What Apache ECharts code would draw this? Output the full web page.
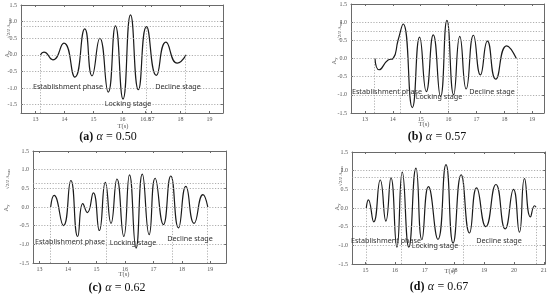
<!DOCTYPE html>
<html>
<head>
<meta charset="utf-8">
<script src="https://cdn.jsdelivr.net/npm/echarts@6/dist/echarts.min.js"></script>
<style>html,body{margin:0;padding:0;background:#fff;}#c{width:550px;height:297px;}</style>
</head>
<body>
<div id="c"></div>
<script>
// ---- data ----
const tA = [13.17,13.29,13.60,13.98,14.36,14.70,14.95,15.22,15.51,15.76,16.02,16.28,16.55,16.83,17.17,17.50,17.89,18.20];
const yA = [0,0.08,-0.15,0.35,-0.67,0.78,-0.63,0.50,-1.12,0.87,-1.33,1.20,-1.05,0.85,-0.62,0.38,-0.25,0];
const tB = [13.36,13.51,13.83,14.01,14.19,14.37,14.70,14.96,15.20,15.45,15.71,15.94,16.18,16.40,16.63,16.89,17.14,17.39,17.69,18.08,18.43];
const yB = [0,-0.31,-0.04,0,0.51,0.95,-1.35,0.59,-0.91,0.65,-1.05,1.05,-1.00,0.61,-0.84,0.64,-0.45,0.48,-0.57,0.35,0];
const tC = [13.39,13.51,13.84,14.10,14.34,14.52,14.68,14.89,15.10,15.31,15.51,15.72,15.96,16.16,16.39,16.61,16.85,17.06,17.35,17.61,17.88,18.14,18.43,18.74,18.91];
const yC = [0,0.31,-0.50,0.71,-0.79,0.09,-0.15,0.38,-0.63,0.66,-0.44,0.75,-0.79,0.86,-1.10,0.88,-0.74,0.77,-0.47,0.83,-0.56,0.55,-0.44,0.33,0];
const tD = [15.03,15.10,15.28,15.50,15.69,15.86,16.06,16.24,16.46,16.70,16.90,17.12,17.44,17.71,17.95,18.22,18.50,18.74,19.05,19.39,19.70,19.98,20.18,20.35,20.55,20.69,20.74];
const yD = [0,0.22,-0.37,0.75,-0.35,0.81,-1.05,0.96,-1.05,1.07,-0.85,0.57,-0.84,1.16,-0.94,0.89,-0.67,0.54,-0.50,0.63,-0.56,0.50,-0.65,0.79,-0.24,0.06,0.02];

// stage boundary lines (x, and curve value where the dotted line starts)
const stageXA = [13.17,16.82,18.17], stageTopA = [0,0.85,0];
const stageXB = [13.35,14.28,16.00,18.45], stageTopB = [0,0.72,0.95,0];
const stageXC = [13.39,15.34,17.67,18.90], stageTopC = [0,0.65,0.80,0];
const stageXD = [15.04,16.22,18.29,20.75], stageTopD = [0,0.95,0.85,0];

// sqrt(2)/2 * A_max reference levels
const refLevels = [0.85,0.74,0.63,0.82];

// tick labels
const xTicksA = [13,14,15,16,16.8,17,18,19];
const xTicksB = [13,14,15,16,17,18,19];
const xTicksC = [13,14,15,16,17,18,19];
const xTicksD = [15,16,17,18,19,20,21];
const yTicks = [-1.5,-1.0,-0.5,0,0.5,1.0,1.5];

const captions = ['a','b','c','d'];
const alphas = ['0.50','0.57','0.62','0.67'];
const stageNames = ['Establishment phase','Locking stage','Decline stage'];

// ---- layout ----
const panels = [
  {t:tA,y:yA,sx:stageXA,st:stageTopA,xt:xTicksA,grid:{left:21,top:5,width:202,height:108},xmin:12.5,xmax:19.47,ymin:-1.75,ymax:1.5},
  {t:tB,y:yB,sx:stageXB,st:stageTopB,xt:xTicksB,grid:{left:351,top:4,width:193,height:109},xmin:12.5,xmax:19.42,ymin:-1.5,ymax:1.5},
  {t:tC,y:yC,sx:stageXC,st:stageTopC,xt:xTicksC,grid:{left:33,top:151,width:193,height:112},xmin:12.77,xmax:19.55,ymin:-1.5,ymax:1.5},
  {t:tD,y:yD,sx:stageXD,st:stageTopD,xt:xTicksD,grid:{left:352,top:152,width:193,height:112},xmin:14.55,xmax:21.04,ymin:-1.5,ymax:1.5}
];

const boxColor = '#6a6a6a';
const tickFont = {fontFamily:'Liberation Serif',fontSize:6,color:'#555'};

const grid=[], xAxis=[], yAxis=[], series=[];
panels.forEach((p,i)=>{
  grid.push(Object.assign({containLabel:false},p.grid));
  const xl = p.xt.map(v=>v);
  xAxis.push({type:'value',gridIndex:i,min:p.xmin,max:p.xmax,position:'bottom',
    axisLine:{show:true,onZero:false,lineStyle:{color:boxColor,width:1}},
    axisTick:{show:true,inside:true,length:2,customValues:xl,lineStyle:{color:boxColor}},
    axisLabel:Object.assign({show:true,margin:3,customValues:xl,formatter:v=>String(Math.round(v*10)/10)},tickFont),
    splitLine:{show:false}});
  xAxis.push({type:'value',gridIndex:i,min:p.xmin,max:p.xmax,position:'top',
    axisLine:{show:true,onZero:false,lineStyle:{color:boxColor,width:1}},
    axisTick:{show:true,inside:true,length:2,customValues:xl,lineStyle:{color:boxColor}},
    axisLabel:{show:false},splitLine:{show:false}});
  yAxis.push({type:'value',gridIndex:i,min:p.ymin,max:p.ymax,position:'left',
    axisLine:{show:true,onZero:false,lineStyle:{color:boxColor,width:1}},
    axisTick:{show:true,inside:true,length:2,customValues:yTicks,lineStyle:{color:boxColor}},
    axisLabel:Object.assign({show:true,margin:4,customValues:yTicks,formatter:v=>v.toFixed(1)},tickFont),
    splitLine:{show:false}});
  yAxis.push({type:'value',gridIndex:i,min:p.ymin,max:p.ymax,position:'right',
    axisLine:{show:true,onZero:false,lineStyle:{color:boxColor,width:1}},
    axisTick:{show:true,inside:true,length:2,customValues:yTicks,lineStyle:{color:boxColor}},
    axisLabel:{show:false},splitLine:{show:false}});
  const ml = yTicks.filter(v=>v>p.ymin&&v<p.ymax).map(v=>({yAxis:v}));
  ml.push({yAxis:refLevels[i]});
  p.sx.forEach((x,k)=>ml.push([{coord:[x,p.ymin]},{coord:[x,p.st[k]]}]));
  series.push({type:'line',xAxisIndex:2*i,yAxisIndex:2*i,
    data:p.t.map((t,k)=>[t,p.y[k]]),
    smooth:0.55,showSymbol:false,symbol:'none',silent:true,
    lineStyle:{color:'#1a1a1a',width:1.2},
    markLine:{silent:true,symbol:['none','none'],label:{show:false},animation:false,
      lineStyle:{type:[1.2,1.6],color:'#9a9a9a',width:0.8},data:ml}});
});

// annotation texts (pixel layout)
const stagePos = [
  [[68,87],[128,104],[178,87]],
  [[387,92],[439,97],[492,92]],
  [[70,242],[133,243],[190,239]],
  [[386,241],[435,246],[499,241]]
];
const capPos = [[108,137],[437,137],[117,288],[439,287]];
const tPos = [[123,126],[424,124],[124,274],[450,271]];
const ayPos = [[7,54],[334,61],[6,208],[337,207]];
const refPos = [[9,28],[340,30],[8,179],[341,176]];

const graphic=[];
stagePos.forEach(ps=>ps.forEach((pt,k)=>{
  graphic.push({type:'text',x:pt[0],y:pt[1],silent:true,z:10,
    style:{text:stageNames[k],fill:'#333',font:'7.2px "Noto Sans"',align:'center',verticalAlign:'middle'}});
}));
capPos.forEach((pt,i)=>{
  graphic.push({type:'text',x:pt[0],y:pt[1],silent:true,
    style:{text:'{b|('+captions[i]+')} {i|α} {r|= '+alphas[i]+'}',align:'center',verticalAlign:'middle',
      rich:{b:{font:'bold 12px "Liberation Serif"',fill:'#111'},i:{font:'italic 12px "Liberation Serif"',fill:'#111'},r:{font:'12px "Liberation Serif"',fill:'#111'}}}});
});
tPos.forEach(pt=>{
  graphic.push({type:'text',x:pt[0],y:pt[1],silent:true,
    style:{text:'T(s)',fill:'#555',font:'6.5px "Liberation Serif"',align:'center',verticalAlign:'middle'}});
});
ayPos.forEach(pt=>{
  graphic.push({type:'text',x:pt[0],y:pt[1],rotation:Math.PI/2,silent:true,
    style:{text:'{a|A}{s|y}',align:'center',verticalAlign:'middle',
      rich:{a:{font:'6.5px "Liberation Serif"',fill:'#555'},s:{font:'4.5px "Liberation Serif"',fill:'#555',padding:[3,0,0,0]}}}});
});
refPos.forEach(pt=>{
  graphic.push({type:'text',x:pt[0],y:pt[1],rotation:Math.PI/2,silent:true,
    style:{text:'{a|√2/2 A}{s|max}',align:'center',verticalAlign:'middle',
      rich:{a:{font:'5px "Liberation Serif"',fill:'#555'},s:{font:'3.5px "Liberation Serif"',fill:'#555',padding:[2,0,0,0]}}}});
});

const chart = echarts.init(document.getElementById('c'),null,{renderer:'canvas'});
chart.setOption({animation:false,backgroundColor:'#fff',grid,xAxis,yAxis,series,graphic});
</script>
</body>
</html>
